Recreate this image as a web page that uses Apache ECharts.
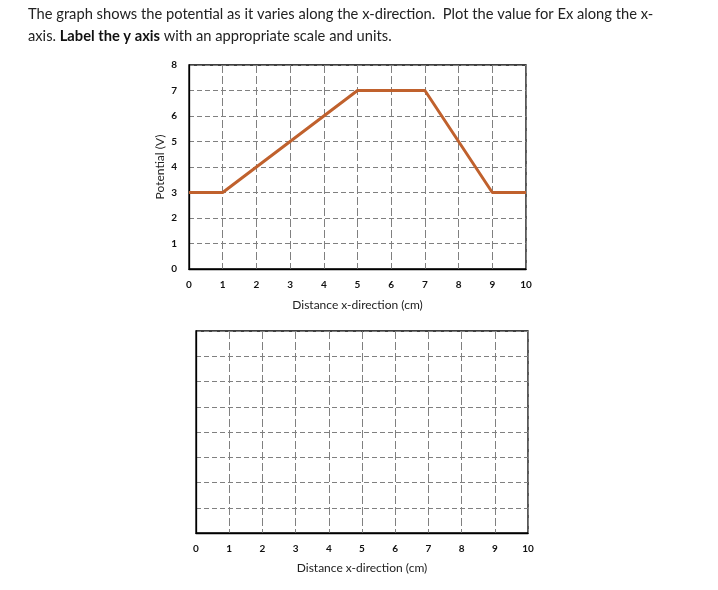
<!DOCTYPE html>
<html>
<head>
<meta charset="utf-8">
<script src="https://cdn.jsdelivr.net/npm/echarts@6/dist/echarts.min.js"></script>
<style>
html,body{margin:0;padding:0;background:#fff;}
#c{width:718px;height:590px;}
</style>
</head>
<body>
<div id="c"></div>
<script>
// Data
var xPoints = [0, 1, 5, 7, 9, 10];
var potential = [3, 3, 7, 7, 3, 3];
var xTicks = [0, 1, 2, 3, 4, 5, 6, 7, 8, 9, 10];
var yTicks = [0, 1, 2, 3, 4, 5, 6, 7, 8];
var titleLine1 = 'The graph shows the potential as it varies along the x-direction.  Plot the value for Ex along the x-';
var titleLine2a = 'axis. ';
var titleLine2b = 'Label the y axis';
var titleLine2c = ' with an appropriate scale and units.';
var xName = 'Distance x-direction (cm)';
var yName = 'Potential (V)';

var FONT = 'Lato';
var chart = echarts.init(document.getElementById('c'));

var seriesData = xPoints.map(function (x, i) { return [x, potential[i]]; });

function xAxisCfg(gridIndex, nameGap) {
  return {
    type: 'value', gridIndex: gridIndex, min: 0, max: 10, interval: 1,
    name: xName, nameLocation: 'middle', nameGap: nameGap,
    nameTextStyle: { fontFamily: FONT, fontSize: 12, color: '#222' },
    axisLine: { show: true, onZero: false, lineStyle: { color: '#000', width: 1.3 } },
    axisTick: { show: false },
    axisLabel: { fontFamily: FONT, fontSize: 10, color: '#111', margin: 11, fontWeight: 'bold' },
    splitLine: { show: true, lineStyle: { color: '#808080', type: [8, 3], width: 1 } }
  };
}

var option = {
  animation: false,
  backgroundColor: '#fff',
  graphic: [
    { type: 'text', left: 28, top: 7, style: { text: titleLine1, font: '14.7px ' + FONT, fill: '#222' } },
    { type: 'text', left: 28, top: 29, style: {
        text: '{a|' + titleLine2a + '}{b|' + titleLine2b + '}{a|' + titleLine2c + '}',
        rich: {
          a: { font: '14.7px ' + FONT, fill: '#222' },
          b: { font: 'bold 14.7px ' + FONT, fill: '#111' }
        }
      } }
  ],
  grid: [
    { left: 189, top: 65, width: 337, height: 204, show: true, borderColor: '#000', borderWidth: 1.3, backgroundColor: 'transparent' },
    { left: 196, top: 331, width: 332, height: 202, show: true, borderColor: '#000', borderWidth: 1.3, backgroundColor: 'transparent' }
  ],
  xAxis: [xAxisCfg(0, 30), xAxisCfg(1, 29)],
  yAxis: [
    {
      type: 'value', gridIndex: 0, min: 0, max: 8, interval: 1,
      name: yName, nameLocation: 'middle', nameGap: 23,
      nameTextStyle: { fontFamily: FONT, fontSize: 12, color: '#222' },
      axisLine: { show: true, lineStyle: { color: '#000', width: 1.3 } },
      axisTick: { show: false },
      axisLabel: { fontFamily: FONT, fontSize: 10, color: '#111', margin: 12, fontWeight: 'bold' },
      splitLine: { show: true, lineStyle: { color: '#808080', type: [5, 3], width: 1 } }
    },
    {
      type: 'value', gridIndex: 1, min: 0, max: 8, interval: 1,
      axisLine: { show: true, lineStyle: { color: '#000', width: 1.3 } },
      axisTick: { show: false },
      axisLabel: { show: false },
      splitLine: { show: true, lineStyle: { color: '#808080', type: [5, 3], width: 1 } }
    }
  ],
  series: [
    {
      type: 'line', xAxisIndex: 0, yAxisIndex: 0, data: seriesData,
      showSymbol: false, symbol: 'none',
      lineStyle: { color: '#C0612D', width: 3 },
      z: 5
    }
  ]
};
chart.setOption(option);
</script>
</body>
</html>
